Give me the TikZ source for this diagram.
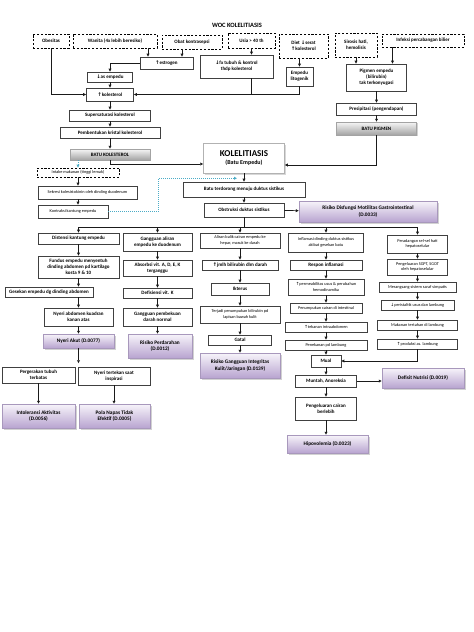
\documentclass[tikz,border=0pt]{standalone}
\usepackage{fontspec}
\setmainfont{Carlito}
\newfontfamily\symfont{DejaVu Sans}
\usepackage{tikz}
\usetikzlibrary{positioning,arrows.meta,shadows,calc}
\definecolor{wInk}{HTML}{1A1A1A}
\definecolor{wLine}{HTML}{404040}
\definecolor{wTeal}{HTML}{4BACC6}
\definecolor{dxTop}{HTML}{F7F4FA}
\definecolor{dxBot}{HTML}{B8A4D0}
\definecolor{dxLine}{HTML}{A898BC}
\definecolor{gTop}{HTML}{F6F6F6}
\definecolor{gBot}{HTML}{A3A3A3}
\newcommand{\naik}{{\symfont\char"2191}}
\newcommand{\turun}{{\symfont\char"2193}}
\begin{document}
\begin{tikzpicture}[x=1pt,y=-1pt,>={Triangle[length=3pt,width=2.8pt]},
    wbox/.style={draw=wLine, line width=0.6pt, fill=white, align=center, inner sep=0.5pt,
      font=\fontsize{5}{6}\selectfont\bfseries},
    lite/.style={font=\fontsize{4.3}{5.4}\selectfont},
    dbox/.style={draw=black, line width=0.9pt, dash pattern=on 2.2pt off 1.6pt, fill=white,
      align=center, inner sep=0.5pt, font=\fontsize{5}{6}\selectfont\bfseries},
    gbox/.style={draw=gBot, line width=0.5pt, top color=gTop, bottom color=gBot, align=center,
      inner sep=0.5pt, font=\fontsize{5}{6}\selectfont\bfseries,
      drop shadow={opacity=0.35, shadow xshift=1.2pt, shadow yshift=-1.2pt}},
    kbox/.style={draw=gray!60, line width=0.5pt, fill=white, align=center, inner sep=0.5pt,
      font=\fontsize{6}{7.5}\selectfont\bfseries,
      drop shadow={opacity=0.3, shadow xshift=1.5pt, shadow yshift=-1.5pt}},
    dxbox/.style={draw=dxLine, line width=0.5pt, top color=dxTop, bottom color=dxBot, align=center,
      inner sep=0.5pt, font=\fontsize{5.3}{6.8}\selectfont\bfseries,
      drop shadow={opacity=0.35, shadow xshift=1.5pt, shadow yshift=-1.5pt}},
    wh/.style 2 args={minimum width=#1, minimum height=#2},
    ln/.style={line width=0.7pt, wInk},
    arr/.style={ln, ->},
    tarr/.style={->, line width=0.7pt, wTeal, dash pattern=on 1pt off 1pt}]
  \fill[white] (0,0) rectangle (474,632);
  \useasboundingbox (0,0) rectangle (474,632);
  \node[font=\fontsize{6.5}{8}\selectfont\bfseries] (title) at (237,25) {WOC KOLELITIASIS};
  \node[dbox, wh={36}{14}] (obes) at (51,41) {Obesitas};
  \node[dbox, wh={84}{14}] (wanita) at (115,41) {Wanita (4x lebih beresiko)};
  \node[dbox, wh={60}{14}] (obat) at (192,42) {Obat kontrasepsi};
  \node[dbox, wh={47}{15}] (usia) at (251.5,40.5) {Usia > 40 th};
  \node[dbox, wh={49}{24}] (diet) at (303.5,46) {Diet \turun serat\\\naik kolesterol};
  \node[dbox, wh={42}{24}] (sirosis) at (356,45) {Sirosis hati,\\hemolisis};
  \node[dbox, wh={82}{13}] (infeksi) at (423,40.5) {Infeksi percabangan bilier};
  \node[wbox, wh={53}{12}] (estro) at (166.5,63) {\naik estrogen};
  \node[wbox, wh={73}{23}] (fx) at (236.5,66.5) {\turun fx tubuh \& kontrol\\thdp kolesterol};
  \node[wbox, wh={27}{19}] (lito) at (299.5,76.5) {Empedu\\litogenik};
  \node[wbox, wh={60}{27}] (pigmen) at (376.5,77.5) {Pigmen empedu\\(bilirubin)\\tak terkonyugasi};
  \node[wbox, wh={45}{10}] (asemp) at (110,77) {\turun as empedu};
  \node[wbox, wh={47}{13}] (kol) at (110,94.5) {\naik kolesterol};
  \node[wbox, wh={81}{11}] (super) at (110,115.5) {Supersaturasi kolesterol};
  \node[wbox, wh={100}{11}] (kristal) at (110,132.5) {Pembentukan kristal kolesterol};
  \node[gbox, wh={80}{11}] (batuk) at (110,154.5) {BATU KOLESTEROL};
  \node[wbox, wh={80}{12}] (presip) at (376.5,109) {Presipitasi (pengendapan)};
  \node[gbox, wh={80}{13}] (batup) at (376.5,128.5) {BATU PIGMEN};
  \node[kbox, wh={81}{30}] (kolel) at (244,158) {{\fontsize{9}{10.5}\selectfont KOLELITIASIS}\\(Batu Empedu)};
  \node[dbox, lite, line width=0.6pt, wh={82}{9}] (intake) at (78,172.5) {Intake makanan (tinggi lemak)};
  \node[wbox, lite, wh={99}{13}] (sekresi) at (87.5,192.5) {Sekresi kolesistokinin oleh dinding duodenum};
  \node[wbox, lite, wh={70}{13}] (kontraksi) at (73,211.5) {Kontraksi kantung empedu};
  \node[wbox, wh={122}{15}] (batut) at (244,189.5) {Batu terdorong menuju duktus sistikus};
  \node[wbox, wh={80}{14}] (obst) at (244,210) {Obstruksi duktus sistikus};
  \node[dxbox, wh={138}{21}] (risk1) at (368,211.5) {Risiko Disfungsi Motilitas Gastrointestinal\\(D.0033)};
  \node[wbox, wh={81}{11}] (distensi) at (78.5,238.5) {Distensi kantung empedu};
  \node[wbox, wh={81}{22}] (fundus) at (78.5,267) {Fundus empedu menyentuh\\dinding abdomen pd kartilago\\kosta 9 \& 10};
  \node[wbox, wh={88}{10}] (gesekan) at (49,292) {Gesekan empedu dg dinding abdomen};
  \node[wbox, wh={69}{18}] (nyeriabd) at (78.5,317) {Nyeri abdomen kuadran\\kanan atas};
  \node[dxbox, wh={71}{14}] (nyeriakut) at (78.5,341) {Nyeri Akut (D.0077)};
  \node[wbox, wh={73}{16}] (gerak) at (38.5,375) {Pergerakan tubuh\\terbatas};
  \node[wbox, wh={72}{18}] (tekan) at (114,376) {Nyeri tertekan saat\\inspirasi};
  \node[dxbox, wh={73}{24}] (intol) at (38.5,416) {Intoleransi Aktivitas\\(D.0056)};
  \node[dxbox, wh={71}{24}] (pola) at (114.5,416) {Pola Napas Tidak\\Efektif (D.0005)};
  \node[wbox, wh={69}{18}] (aliran) at (157.5,242) {Gangguan aliran\\empedu ke duodenum};
  \node[wbox, wh={69}{16}] (absorb) at (157.5,268) {Absorbsi vit. A, D, E, K\\terganggu};
  \node[wbox, wh={69}{10}] (defvit) at (157.5,293) {Defisiensi vit. K};
  \node[wbox, wh={69}{18}] (beku) at (157.5,317) {Gangguan pembekuan\\darah normal};
  \node[dxbox, wh={64}{24}] (rperd) at (160,346) {Risiko Perdarahan\\(D.0012)};
  \node[wbox, lite, wh={80}{15}] (balik) at (240,240.5) {Aliran balik cairan empedu ke\\hepar, masuk ke darah};
  \node[wbox, wh={76}{10}] (bili) at (240,265) {\naik jmlh bilirubin dlm darah};
  \node[wbox, wh={58}{12}] (ikterus) at (240,289) {Ikterus};
  \node[wbox, lite, wh={80}{17}] (tumpuk) at (240,314.5) {Terjadi penumpukan bilirubin pd\\lapisan bawah kulit};
  \node[wbox, wh={63}{10}] (gatal) at (240,340) {Gatal};
  \node[dxbox, wh={80}{25}] (rkulit) at (240,365.5) {Risiko Gangguan Integritas\\Kulit/Jaringan (D.0139)};
  \node[wbox, lite, wh={75}{19}] (inflam) at (326,242.5) {Inflamasi dinding duktus sistikus\\akibat gesekan batu};
  \node[wbox, wh={72}{10}] (respon) at (326,265) {Respon inflamasi};
  \node[wbox, lite, wh={76}{16}] (perm) at (326,287) {\naik permeabilitas usus \& perubahan\\hemodinamika};
  \node[wbox, lite, wh={72}{10}] (cairan) at (326,308) {Penumpukan cairan di intestinal};
  \node[wbox, lite, wh={82}{10}] (intraabd) at (326,327) {\naik tekanan intraabdomen};
  \node[wbox, lite, wh={82}{10}] (pnkn) at (326,345) {Penekanan pd lambung};
  \node[wbox, wh={30}{12}] (mual) at (326,361) {Mual};
  \node[wbox, wh={61}{12}] (muntah) at (326,381) {Muntah, Anoreksia};
  \node[wbox, wh={61}{23}] (keluar) at (326,408.5) {Pengeluaran cairan\\berlebih};
  \node[dxbox, wh={81}{18}] (hipo) at (327.5,444) {Hipovolemia (D.0023)};
  \node[dxbox, wh={82}{20}] (defisit) at (423,378) {Defisit Nutrisi (D.0019)};
  \node[wbox, lite, wh={60}{18}] (radang) at (417.5,244) {Peradangan sel-sel hati\\hepatoselular};
  \node[wbox, lite, wh={60}{16}] (sgpt) at (417.5,267) {Pengeluaran SGPT, SGOT\\oleh hepatoselular};
  \node[wbox, lite, wh={77}{10}] (saraf) at (417.5,287) {Merangsang sistem saraf simpatis};
  \node[wbox, lite, wh={73}{10}] (peris) at (417.5,305) {\turun peristaltik usus dan lambung};
  \node[wbox, lite, wh={80}{10}] (tahan) at (417.5,325) {Makanan tertahan di lambung};
  \node[wbox, lite, wh={80}{10}] (asam) at (417.5,344) {\naik produksi as. lambung};
  \draw[arr] (obes) |- (kol);
  \draw[arr] ([xshift=33]wanita.south) -- ([xshift=33]wanita.south |- estro.north);
  \draw[arr] ([xshift=-10]obat.south) -- ([xshift=-10]obat.south |- estro.north);
  \draw[arr] (estro) -| (asemp);
  \draw[arr] (usia) -- (usia |- fx.north);
  \draw[arr] (diet.south -| lito) -- (lito);
  \draw[arr] (sirosis) -- (sirosis |- pigmen.north);
  \draw[arr] ([xshift=16]pigmen.north |- infeksi.south) -- ([xshift=16]pigmen.north);
  \draw[arr] (lito) |- (kol);
  \draw[ln] (fx.south -| usia) -- (usia |- kol);
  \draw[arr] (batuk.south) |- ([yshift=-6]kolel.west);
  \draw[arr] (batup.south) |- ([yshift=-7]kolel.east);
  \draw[tarr] (batuk.south -| intake) -- (intake);
  \draw[arr] (intake) -- (intake |- sekresi.north);
  \draw[arr] (sekresi.south -| intake) -- (intake |- kontraksi.north);
  \coordinate (tmeet) at ([xshift=-7,yshift=-5]kolel.south);
  \draw[tarr] (kontraksi.east) -- ++(50,0) |- (tmeet);
  \draw[arr] (obst) -- (risk1);
  \coordinate (bus) at ([yshift=-10]obst.south);
  \draw[ln] (obst) -- (bus);
  \draw[ln] (bus -| distensi) -- (bus -| radang);
  \foreach \n in {distensi,aliran,balik,inflam,radang}
    \draw[arr] (bus -| \n) -- (\n);
  \foreach \a/\b in {asemp/kol, kol/super, super/kristal, kristal/batuk, pigmen/presip, presip/batup,
      kolel/batut, batut/obst, distensi/fundus, fundus/gesekan, nyeriabd/nyeriakut, gerak/intol, tekan/pola,
      aliran/absorb, absorb/defvit, defvit/beku, beku/rperd, balik/bili, bili/ikterus, ikterus/tumpuk,
      tumpuk/gatal, gatal/rkulit, inflam/respon, respon/perm, perm/cairan, cairan/intraabd, intraabd/pnkn,
      pnkn/mual, mual/muntah, muntah/keluar, keluar/hipo, radang/sgpt, sgpt/saraf, saraf/peris,
      peris/tahan, tahan/asam}
    \draw[arr] (\a) -- (\a |- \b.north);
  \draw[arr] (nyeriabd |- gesekan.south) -- (nyeriabd);
  \coordinate (nsplit) at ([yshift=-15]nyeriakut.south);
  \draw[arr] (nyeriakut) -- (nsplit);
  \draw[arr] (asam) |- (mual);
  \draw[arr] (muntah) -- (muntah -| defisit.west);
\end{tikzpicture}
\end{document}
